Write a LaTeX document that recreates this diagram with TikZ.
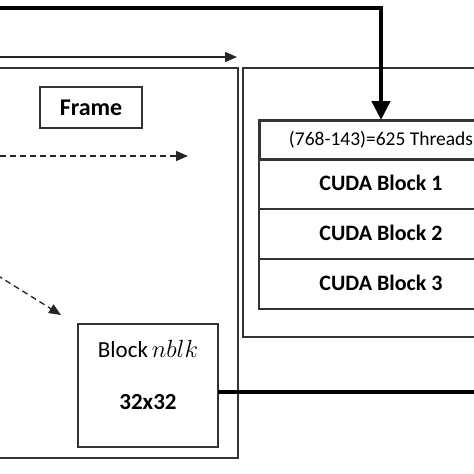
\documentclass[tikz,border=0pt]{standalone}
\usepackage{fontspec}
\setmainfont{Carlito}
\usetikzlibrary{arrows.meta,positioning}

\begin{document}
\begin{tikzpicture}[x=1pt,y=-1pt,
		place/.style={rectangle,draw=black!80,line width=1.2pt,outer sep=0pt,inner sep=0pt},
		cuda/.style={place,minimum width=244pt,minimum height=50pt,text depth=3pt},
		marrow/.style={-{Triangle[length=12pt,width=10pt]},line width=1.3pt,black!85},
		darrow/.style={marrow,dash pattern=on 6pt off 4pt},
		barrow/.style={line width=4.5pt,black}]
		\fontsize{22}{26}\selectfont
		\clip (0,0) rectangle (474,474);

		% containers (cut by the picture edge)
		\node [place] (frame-area) at (69,263) [minimum width=338pt,minimum height=390pt] {};
		\node [place] (gpu-area) at (421.5,202.5) [minimum width=357pt,minimum height=269pt] {};

		\node [place,font=\fontsize{24}{28}\selectfont] (frame) at (91,107.5) [minimum width=102pt,minimum height=41pt] {\textbf{Frame}};
		\node [place] (blk) at (148,385.5) [minimum width=140pt,minimum height=123pt] {};
		\node [font=\fontsize{23}{27}\selectfont] (blk-name) [below=9pt of blk.north] {Block\,$nblk$};
		\node [font=\fontsize{23}{27}\selectfont] (blk-size) at (148,402) {\textbf{32x32}};

		% text kept inside the picture edge
		\node [place,line width=3pt,minimum width=244pt,minimum height=39pt,font=\fontsize{19.5}{23}\selectfont] (threads) at (381,139.5) {(768-143)=625 Threads};
		\node [cuda] (cuda-1) [below=0pt of threads] {\textbf{CUDA Block 1}};
		\node [cuda] (cuda-2) [below=0pt of cuda-1] {\textbf{CUDA Block 2}};
		\node [cuda] (cuda-3) [below=0pt of cuda-2] {\textbf{CUDA Block 3}};

		% free ends
		\coordinate (top-in) at (-10,8);
		\coordinate (thin-in) at (-10,57);
		\coordinate (thin-out) at (237,57);
		\coordinate (dash-in) at (-10,156);
		\coordinate (dash-out) at (188,156);
		\coordinate (diag-in) at (-20,264.5);
		\coordinate (diag-out) at (61,315);
		\coordinate (blk-out) at (480,392);

		% arrows
		\draw [barrow,-{Triangle[length=19pt,width=18pt]}] (top-in) -| (threads.north);
		\draw [marrow] (thin-in) -- (thin-out);
		\draw [darrow] (dash-in) -- (dash-out);
		\draw [darrow] (diag-in) -- (diag-out);
		\draw [barrow] (blk.east |- blk-out) -- (blk-out);
	\end{tikzpicture}
\end{document}
